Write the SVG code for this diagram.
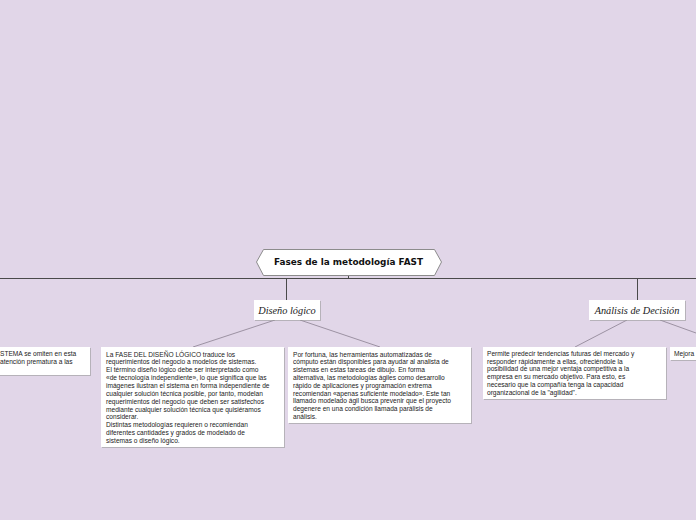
<svg xmlns="http://www.w3.org/2000/svg" width="696" height="520" viewBox="0 0 696 520">
<style>
.bg{fill:#e1d6e8}
.box{fill:#ffffff}
.sh{fill:#9a9a9a;opacity:0.6}
.t{font-family:"Liberation Sans",Arial,sans-serif;font-size:6.6px;fill:#222}
.lbl{font-family:"Liberation Serif","Times New Roman",serif;font-style:italic;font-size:10.3px;fill:#222}
.root{font-family:"DejaVu Sans",Verdana,sans-serif;font-weight:bold;font-size:9px;fill:#111}
.main{stroke:#4a4a4a;stroke-width:1;fill:none}
.sub{stroke:#8a8090;stroke-width:0.8;fill:none}
</style>
<rect class="bg" x="0" y="0" width="696" height="520"/>
<g id="connectors">
<line class="main" x1="0" y1="278.5" x2="696" y2="278.5"/>
<line class="main" x1="348.5" y1="275" x2="348.5" y2="278.5"/>
<line class="main" x1="286.5" y1="278.5" x2="286.5" y2="300"/>
<line class="main" x1="637.5" y1="278.5" x2="637.5" y2="300"/>
<line class="sub" x1="275" y1="320" x2="193" y2="347"/>
<line class="sub" x1="300" y1="320" x2="380" y2="347"/>
<line class="sub" x1="627" y1="320" x2="575" y2="347"/>
<line class="sub" x1="660" y1="320" x2="696" y2="333"/>
</g>
<g id="root">
<polygon points="256.5,262 263.5,249.5 434.5,249.5 441.5,262 434.5,275.5 263.5,275.5" fill="#ffffff" stroke="#8c8c8c" stroke-width="1"/>
<text class="root" x="274" y="265.3" textLength="149" lengthAdjust="spacingAndGlyphs">Fases de la metodología FAST</text>
</g>
<g id="n-diseno">
<rect class="sh" x="255" y="301" width="66" height="20"/>
<rect class="box" x="254" y="300" width="66" height="20"/>
<text class="lbl" x="287" y="313.8" text-anchor="middle">Diseño lógico</text>
</g>
<g id="n-analisis">
<rect class="sh" x="590" y="301" width="96" height="20"/>
<rect class="box" x="589" y="300" width="96" height="20"/>
<text class="lbl" x="637" y="313.8" text-anchor="middle">Análisis de Decisión</text>
</g>
<g id="n-left">
<rect class="sh" x="-2" y="348" width="93" height="28"/>
<rect class="box" x="-3" y="347" width="93" height="28"/>
<text class="t"><tspan x="0" y="356">STEMA se omiten en esta</tspan><tspan x="0" dy="7.8">atención prematura a las</tspan></text>
</g>
<g id="n-diseno-1">
<rect class="sh" x="102" y="348" width="183" height="100"/>
<rect class="box" x="101" y="347" width="183" height="100"/>
<text class="t"><tspan x="106" y="356.5">La FASE DEL DISEÑO LÓGICO traduce los</tspan><tspan x="106" dy="7.86">requerimientos del negocio a modelos de sistemas.</tspan><tspan x="106" dy="7.86">El término diseño lógico debe ser interpretado como</tspan><tspan x="106" dy="7.86">«de tecnología independiente», lo que significa que las</tspan><tspan x="106" dy="7.86">imágenes ilustran el sistema en forma independiente de</tspan><tspan x="106" dy="7.86">cualquier solución técnica posible, por tanto, modelan</tspan><tspan x="106" dy="7.86">requerimientos del negocio que deben ser satisfechos</tspan><tspan x="106" dy="7.86">mediante cualquier solución técnica que quisiéramos</tspan><tspan x="106" dy="7.86">considerar.</tspan><tspan x="106" dy="7.86">Distintas metodologías requieren o recomiendan</tspan><tspan x="106" dy="7.86">diferentes cantidades y grados de modelado de</tspan><tspan x="106" dy="7.86">sistemas o diseño lógico.</tspan></text>
</g>
<g id="n-diseno-2">
<rect class="sh" x="289" y="348" width="183" height="76"/>
<rect class="box" x="288" y="347" width="183" height="76"/>
<text class="t"><tspan x="293" y="356.5">Por fortuna, las herramientas automatizadas de</tspan><tspan x="293" dy="7.8">cómputo están disponibles para ayudar al analista de</tspan><tspan x="293" dy="7.8">sistemas en estas tareas de dibujo. En forma</tspan><tspan x="293" dy="7.8">alternativa, las metodologías ágiles como desarrollo</tspan><tspan x="293" dy="7.8">rápido de aplicaciones y programación extrema</tspan><tspan x="293" dy="7.8">recomiendan «apenas suficiente modelado». Este tan</tspan><tspan x="293" dy="7.8">llamado modelado ágil busca prevenir que el proyecto</tspan><tspan x="293" dy="7.8">degenere en una condición llamada parálisis de</tspan><tspan x="293" dy="7.8">análisis.</tspan></text>
</g>
<g id="n-analisis-1">
<rect class="sh" x="484" y="348" width="183" height="52"/>
<rect class="box" x="483" y="347" width="183" height="52"/>
<text class="t"><tspan x="487" y="356">Permite predecir tendencias futuras del mercado y</tspan><tspan x="487" dy="7.7">responder rápidamente a ellas, ofreciéndole la</tspan><tspan x="487" dy="7.7">posibilidad de una mejor ventaja competitiva a la</tspan><tspan x="487" dy="7.7">empresa en su mercado objetivo. Para esto, es</tspan><tspan x="487" dy="7.7">necesario que la compañía tenga la capacidad</tspan><tspan x="487" dy="7.7">organizacional de la "agilidad".</tspan></text>
</g>
<g id="n-analisis-2">
<rect class="sh" x="671" y="348" width="30" height="13"/>
<rect class="box" x="670" y="347" width="30" height="13"/>
<text class="t" x="674" y="356">Mejora</text>
</g>
</svg>
